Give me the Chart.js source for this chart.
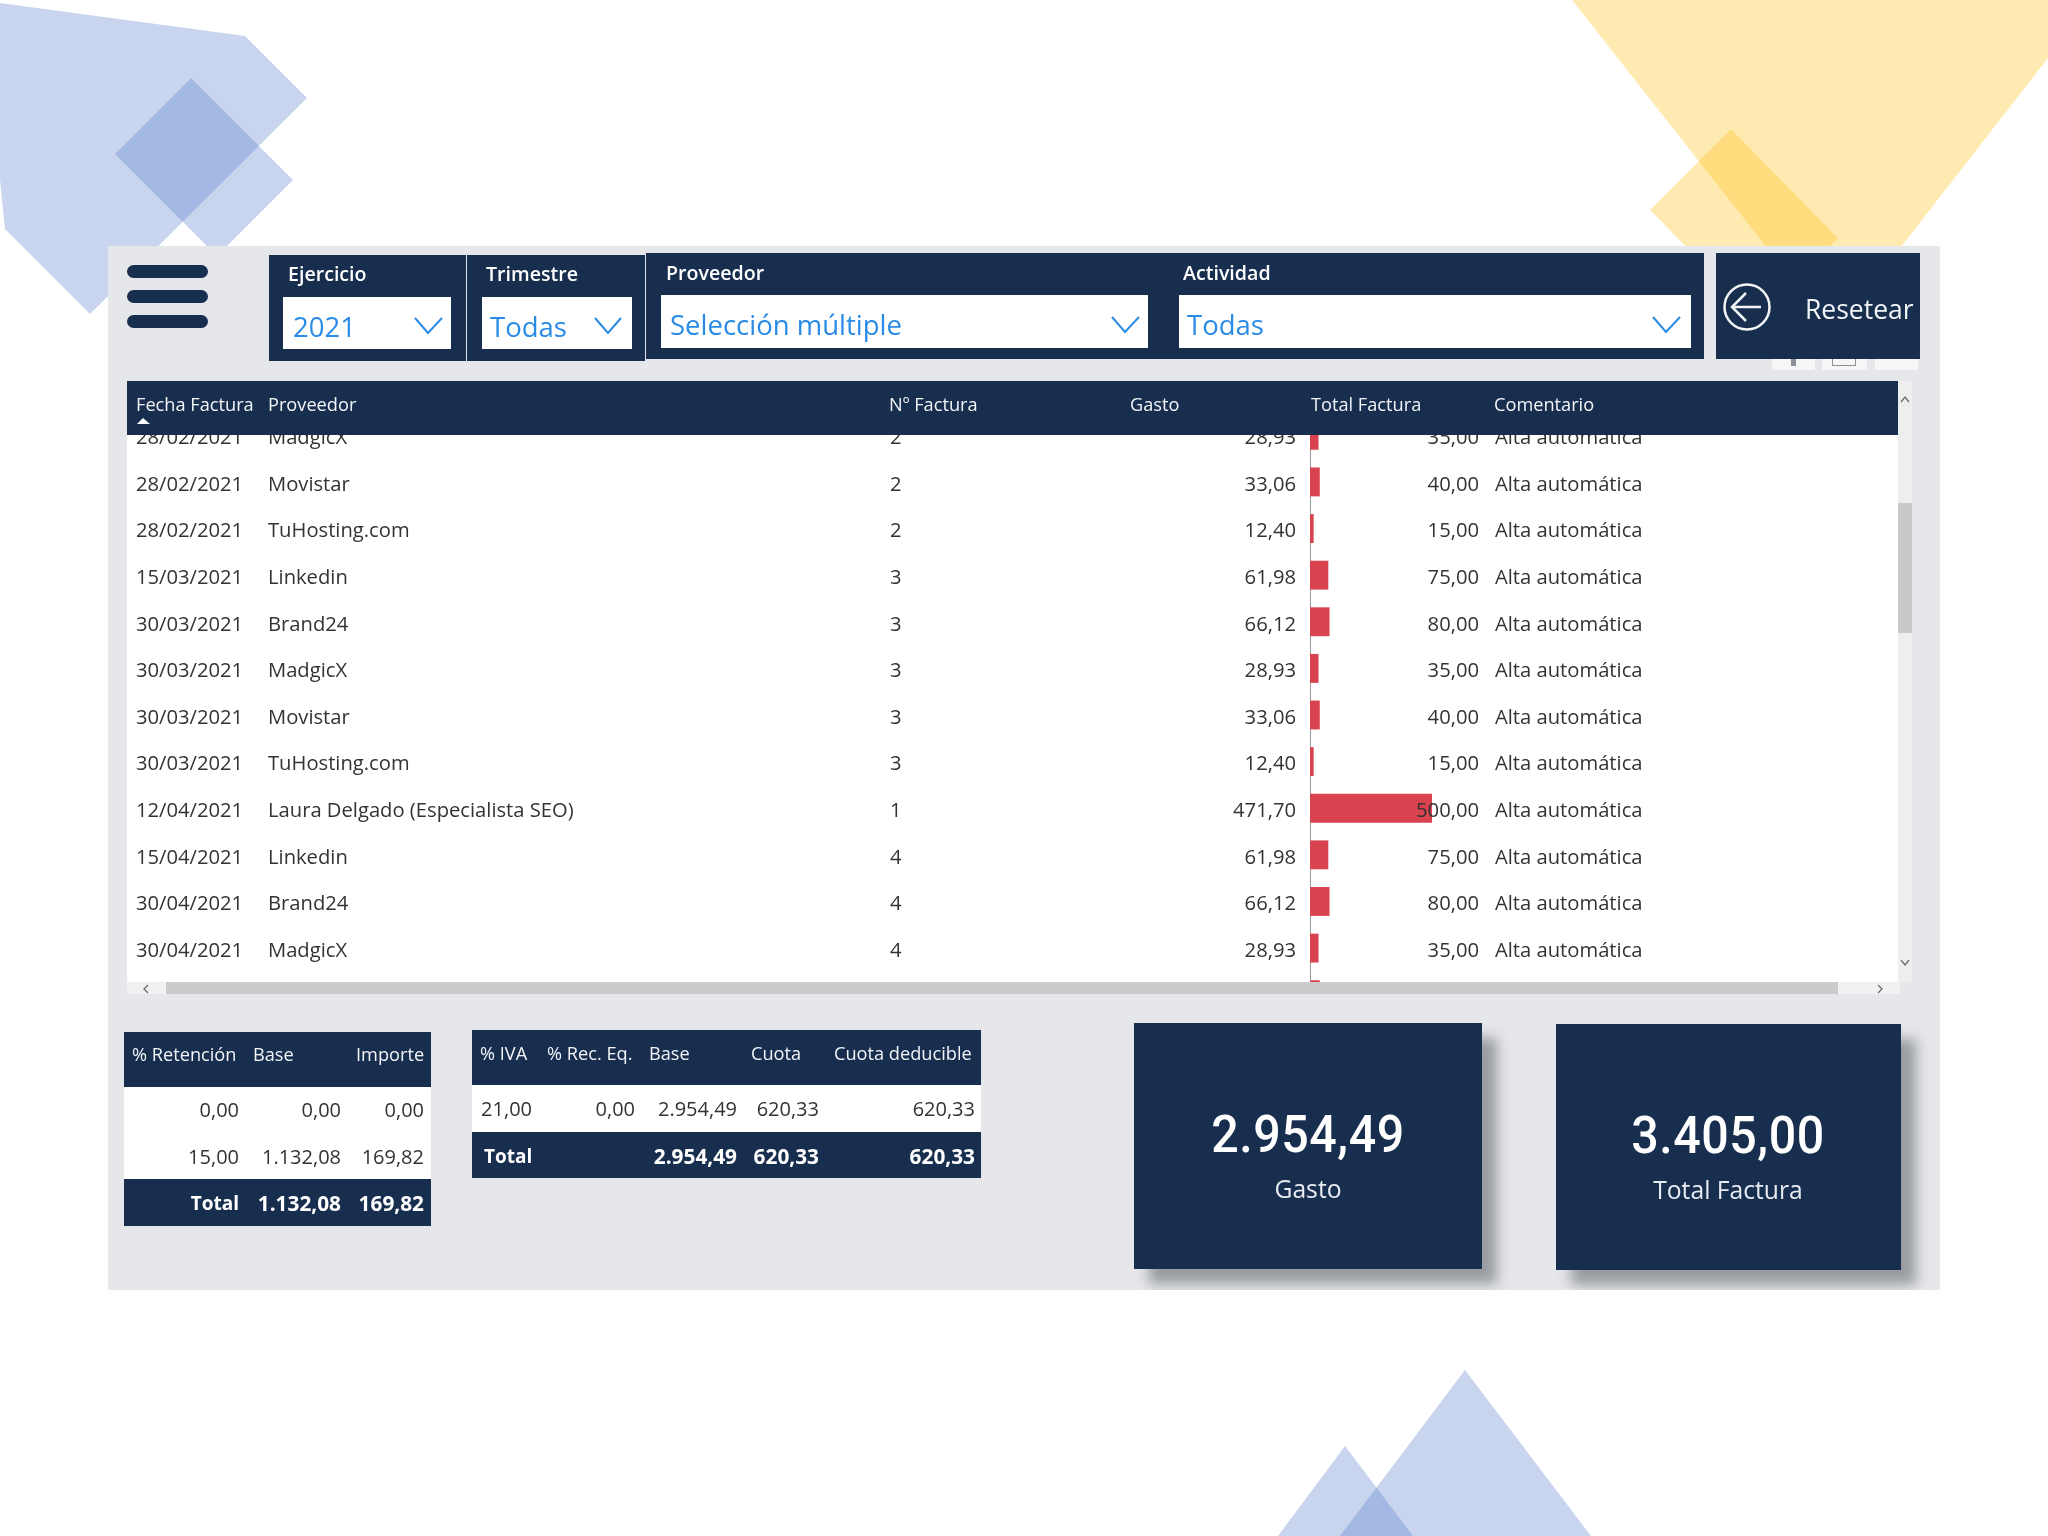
<!DOCTYPE html>
<html lang="es">
<head>
<meta charset="utf-8">
<title>Facturas</title>
<script src="https://cdn.jsdelivr.net/npm/chart.js@4"></script>
<style>
  html, body { margin: 0; background: #fff; }
  #page { position: relative; width: 2048px; height: 1536px; overflow: hidden; font-family: "Open Sans", sans-serif; color: #333; }
  .box { position: absolute; }
  .navy { background: #182e4f; }
  .white { background: #fff; }
  .txt { position: absolute; white-space: nowrap; line-height: 1; }
  .label { color: #fff; font-size: 19.6px; font-weight: 600; }
  .pick { color: #2a8be6; font-size: 27.5px; }
  .reset { color: #f2f4f7; font-size: 26.5px; }
  .head { color: #f2f4f7; font-size: 18.2px; }
  .cell { color: #333; font-size: 20px; }
  .total { color: #fff; font-size: 19px; font-weight: 700; }
  .totalnum { color: #fff; font-size: 20.8px; font-weight: 700; }
  .kpi { color: #fff; font-family: Roboto, sans-serif; font-size: 52px; font-weight: 500; letter-spacing: 0.6px; }
  .kpiname { color: #e8ecf2; font-size: 24.7px; }
  svg { position: absolute; left: 0; top: 0; }
</style>
</head>
<body>
<div id="page">
  <svg width="2048" height="1536">
    <g fill="rgba(80,120,200,0.31)">
      <polygon points="0,3 245,36 307,98 90,314 5,229 0,180"/>
      <polygon points="191,78 293,180 217,256 115,154"/>
      <polygon points="1465,1370 1591,1536 1340,1536"/>
      <polygon points="1345,1446 1413,1536 1278,1536"/>
    </g>
    <g fill="rgba(254,195,20,0.33)">
      <polygon points="1572,0 2048,0 2048,58 1834,333"/>
      <polygon points="1731,129 1838,238 1757,319 1650,210"/>
    </g>
  </svg>

  <div class="box" style="left:108px;top:246px;width:1832px;height:1044px;background:#e6e7ea;overflow:hidden" id="panel"></div>

  <div class="box navy" style="left:127px;top:265px;width:81px;height:13px;border-radius:7px"></div>
  <div class="box navy" style="left:127px;top:290px;width:81px;height:13px;border-radius:7px"></div>
  <div class="box navy" style="left:127px;top:315px;width:81px;height:13px;border-radius:7px"></div>

  <div class="box navy" style="left:269px;top:255px;width:197px;height:106px"></div>
  <div class="box navy" style="left:467px;top:255px;width:178px;height:106px"></div>
  <div class="box navy" style="left:646px;top:253px;width:1058px;height:106px"></div>
  <div class="box navy" style="left:1716px;top:253px;width:204px;height:106px"></div>
  <div class="box white" style="left:283px;top:297px;width:168px;height:52px"></div>
  <div class="box white" style="left:482px;top:297px;width:150px;height:52px"></div>
  <div class="box white" style="left:661px;top:295px;width:487px;height:53px"></div>
  <div class="box white" style="left:1179px;top:295px;width:512px;height:53px"></div>

  <div class="box" style="left:1772px;top:359px;width:43px;height:11px;background:#f6f6f7"></div>
  <div class="box" style="left:1822px;top:359px;width:45px;height:11px;background:#f6f6f7"></div>
  <div class="box" style="left:1875px;top:359px;width:43px;height:11px;background:#f6f6f7"></div>
  <div class="box" style="left:1791px;top:359px;width:5px;height:7px;background:#8a8f98"></div>
  <div class="box" style="left:1832px;top:359px;width:24px;height:7px;border:1px solid #8a8f98;border-top:0;box-sizing:border-box"></div>

  <svg width="2048" height="1536" fill="none" stroke="#2a8be6" stroke-width="2">
    <polyline points="415,318 428,333 442,318"/>
    <polyline points="595,318 608,333 621,318"/>
    <polyline points="1112,317 1125,332 1139,317"/>
    <polyline points="1653,317 1666,332 1680,317"/>
    <g stroke="#f2f4f7" stroke-width="2.5">
      <circle cx="1747" cy="307" r="22.5"/>
      <polyline points="1746,293 1732,307 1746,321"/>
      <line x1="1732" y1="307" x2="1761" y2="307"/>
    </g>
  </svg>

  <!-- table header and body -->
  <div class="box navy" style="left:127px;top:381px;width:1771px;height:54px"></div>
  <div class="box" style="left:1898px;top:381px;width:14px;height:601px;background:#eeeeef"></div>
  <div class="box" style="left:1898px;top:503px;width:14px;height:130px;background:#c9c9cb"></div>
  <div class="box" style="left:127px;top:982px;width:1773px;height:12px;background:#f1f1f2"></div>
  <div class="box" style="left:166px;top:982px;width:1672px;height:12px;background:#cbcbcd"></div>
  <div class="box white" style="left:127px;top:435px;width:1771px;height:547px;overflow:hidden">
    <canvas id="rows" width="1771" height="606" style="position:absolute;left:0;top:-23px"></canvas>
  </div>
  <svg width="2048" height="1536" fill="none" stroke="#6b6b6b" stroke-width="1.3">
    <polyline points="1901,402 1905,397 1909,402"/>
    <polyline points="1901,960 1905,965 1909,960"/>
    <polyline points="148,985 144,989 148,993"/>
    <polyline points="1878,985 1882,989 1878,993"/>
    <polygon points="137,424 143,418 150,424" fill="#fff" stroke="none"/>
  </svg>

  <!-- small tables and cards -->
  <div class="box navy" style="left:124px;top:1032px;width:307px;height:55px"></div>
  <div class="box white" style="left:124px;top:1087px;width:307px;height:92px"></div>
  <div class="box navy" style="left:124px;top:1179px;width:307px;height:47px"></div>
  <div class="box navy" style="left:472px;top:1030px;width:509px;height:55px"></div>
  <div class="box white" style="left:472px;top:1085px;width:509px;height:47px"></div>
  <div class="box navy" style="left:472px;top:1132px;width:509px;height:46px"></div>
  <div class="box navy" style="left:1134px;top:1023px;width:348px;height:246px;box-shadow:15px 15px 12px rgba(90,95,100,0.55);clip-path:inset(0 -40px -21px 0)"></div>
  <div class="box navy" style="left:1556px;top:1024px;width:345px;height:246px;box-shadow:15px 15px 12px rgba(90,95,100,0.55);clip-path:inset(0 -40px -20px 0)"></div>
</div>

<script>
// Main table
const fechas = ['28/02/2021', '28/02/2021', '28/02/2021', '15/03/2021', '30/03/2021', '30/03/2021', '30/03/2021', '30/03/2021', '12/04/2021', '15/04/2021', '30/04/2021', '30/04/2021', '30/04/2021'];
const proveedores = ['MadgicX', 'Movistar', 'TuHosting.com', 'Linkedin', 'Brand24', 'MadgicX', 'Movistar', 'TuHosting.com', 'Laura Delgado (Especialista SEO)', 'Linkedin', 'Brand24', 'MadgicX', 'Movistar'];
const numFactura = [2, 2, 2, 3, 3, 3, 3, 3, 1, 4, 4, 4, 4];
const gasto = [28.93, 33.06, 12.40, 61.98, 66.12, 28.93, 33.06, 12.40, 471.70, 61.98, 66.12, 28.93, 33.06];
const totalFactura = [35, 40, 15, 75, 80, 35, 40, 15, 500, 75, 80, 35, 40];
const comentario = 'Alta automática';
const cabecera = ['Fecha Factura', 'Proveedor', 'Nº Factura', 'Gasto', 'Total Factura', 'Comentario'];

// Retention table
const retCabecera = ['% Retención', 'Base', 'Importe'];
const retPorcentaje = [0, 15];
const retBase = [0, 1132.08];
const retImporte = [0, 169.82];
const retTotal = [1132.08, 169.82];

// IVA table
const ivaCabecera = ['% IVA', '% Rec. Eq.', 'Base', 'Cuota', 'Cuota deducible'];
const ivaFila = [21, 0, 2954.49, 620.33, 620.33];
const ivaTotal = [2954.49, 620.33, 620.33];

// Filters and cards
const filtros = ['Ejercicio', 'Trimestre', 'Proveedor', 'Actividad'];
const seleccion = ['2021', 'Todas', 'Selección múltiple', 'Todas'];
const kpiGasto = 2954.49;
const kpiTotal = 3405;

function fmt(v) {
    const parts = v.toFixed(2).split('.');
    return parts[0].replace(/\B(?=(\d{3})+$)/g, '.') + ',' + parts[1];
}

const page = document.getElementById('page');

function put(text, x, y, cls, align) {
    const el = document.createElement('div');
    el.className = 'txt ' + cls;
    el.textContent = text;
    el.style.left = x + 'px';
    el.style.top = y + 'px';
    const dx = align === 'right' ? '-100%' : align === 'center' ? '-50%' : '0';
    el.style.transform = 'translate(' + dx + ',-50%)';
    page.appendChild(el);
    return el;
}

[[288, 274], [486, 274], [666, 273], [1183, 273]].forEach((p, i) => put(filtros[i], p[0], p[1], 'label'));
[[293, 327], [490, 327], [670, 325], [1187, 325]].forEach((p, i) => put(seleccion[i], p[0], p[1], 'pick'));
put('Resetear', 1805, 309, 'reset');

[136, 268, 889, 1130, 1311, 1494].forEach((x, i) => put(cabecera[i], x, 404, 'head'));

// Retention table
[132, 253, 356].forEach((x, i) => put(retCabecera[i], x, 1054, 'head'));
const retRight = [239, 341, 424];
retPorcentaje.forEach((p, i) => {
    const y = 1110 + i * 47;
    put(fmt(p), retRight[0], y, 'cell', 'right');
    put(fmt(retBase[i]), retRight[1], y, 'cell', 'right');
    put(fmt(retImporte[i]), retRight[2], y, 'cell', 'right');
});
put('Total', retRight[0], 1203, 'total', 'right');
put(fmt(retTotal[0]), retRight[1], 1203, 'totalnum', 'right');
put(fmt(retTotal[1]), retRight[2], 1203, 'totalnum', 'right');

// IVA table
[480, 547, 649, 751, 834].forEach((x, i) => put(ivaCabecera[i], x, 1053, 'head'));
const ivaRight = [532, 635, 737, 819, 975];
ivaFila.forEach((v, i) => put(fmt(v), ivaRight[i], 1109, 'cell', 'right'));
put('Total', 484, 1156, 'total');
ivaTotal.forEach((v, i) => put(fmt(v), ivaRight[i + 2], 1156, 'totalnum', 'right'));

// Cards
put(fmt(kpiGasto), 1308, 1135, 'kpi', 'center').style.transform += ' scaleX(0.93)';
put('Gasto', 1308, 1189, 'kpiname', 'center');
put(fmt(kpiTotal), 1728, 1136, 'kpi', 'center').style.transform += ' scaleX(0.93)';
put('Total Factura', 1728, 1190, 'kpiname', 'center');

// Text of each row, placed on the y scale so it follows the bars
const rowText = {
    id: 'rowText',
    afterDatasetsDraw(chart) {
        const ctx = chart.ctx;
        const y = chart.scales.y;
        ctx.save();
        ctx.font = '20.2px "Open Sans", sans-serif';
        ctx.fillStyle = '#333';
        ctx.textBaseline = 'middle';
        fechas.forEach((f, i) => {
            const py = y.getPixelForValue(i) + 3;
            ctx.textAlign = 'left';
            ctx.fillText(f, 9, py);
            ctx.fillText(proveedores[i], 141, py);
            ctx.fillText(String(numFactura[i]), 763, py);
            ctx.fillText(comentario, 1368, py);
            ctx.textAlign = 'right';
            ctx.fillText(fmt(gasto[i]), 1169, py);
            ctx.fillText(fmt(totalFactura[i]), 1352, py);
        });
        ctx.restore();
    }
};

new Chart(document.getElementById('rows'), {
    type: 'bar',
    data: {
        labels: fechas,
        datasets: [{
            data: totalFactura,
            backgroundColor: '#d8434f',
            barPercentage: 0.62,
            categoryPercentage: 1
        }]
    },
    options: {
        indexAxis: 'y',
        responsive: false,
        animation: false,
        devicePixelRatio: 1,
        layout: { padding: { left: 1183, right: 466, top: 0, bottom: 0 } },
        scales: {
            x: { display: false, min: 0, max: 500 },
            y: {
                ticks: { display: false },
                grid: { display: false, drawTicks: false },
                border: { display: true, color: '#999', dash: [2, 3] }
            }
        },
        plugins: { legend: { display: false }, tooltip: { enabled: false } }
    },
    plugins: [rowText]
});
</script>
</body>
</html>
